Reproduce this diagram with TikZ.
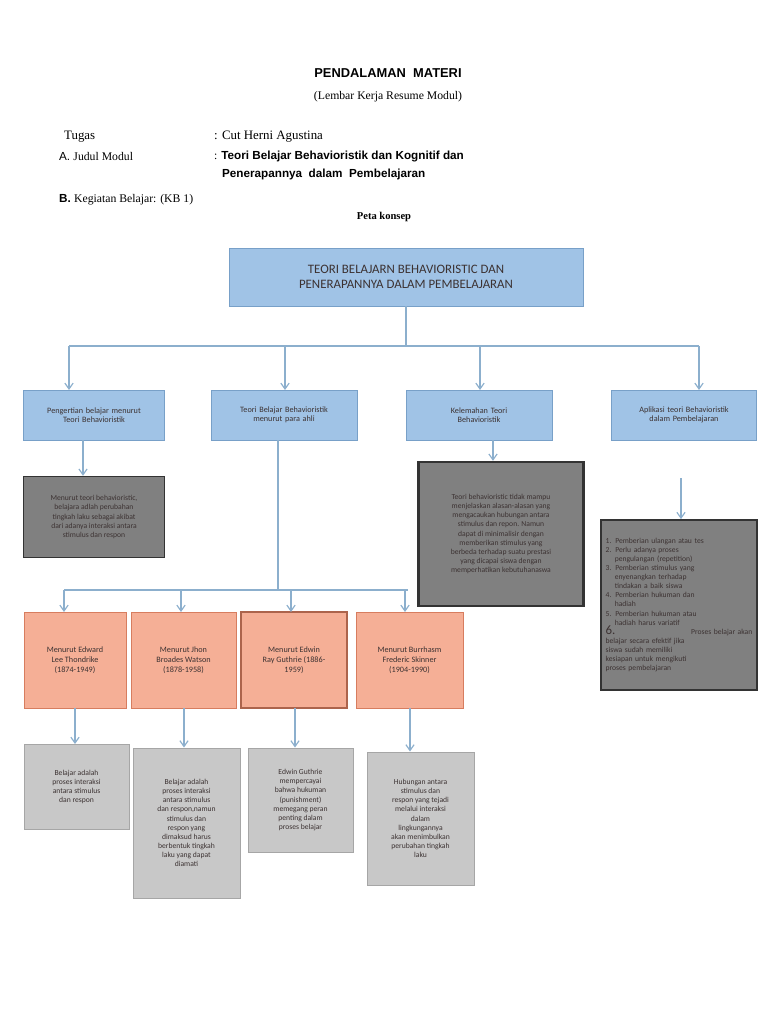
\documentclass[tikz,border=0pt]{standalone}
\usepackage{fontspec}
\setmainfont{Liberation Serif}
\newfontfamily\sansf{Liberation Sans}
\newfontfamily\boxf{Carlito}
\usetikzlibrary{arrows.meta}
\definecolor{lineblue}{RGB}{140,175,205}
\definecolor{headblue}{RGB}{160,195,230}
\definecolor{headedge}{RGB}{120,160,200}
\definecolor{salmon}{RGB}{245,175,150}
\definecolor{salmonedge}{RGB}{215,125,95}
\definecolor{darkgrey}{RGB}{128,128,128}
\definecolor{lightgrey}{RGB}{200,200,200}
\definecolor{boxtext}{RGB}{60,50,50}
\tikzset{
  head/.style = {rectangle, draw=headedge, fill=headblue, line width=0.8pt, text width=#1, align=center, font=\boxf\fontsize{7}{8}\selectfont, text=boxtext, inner sep=2pt},
  topic/.style = {rectangle, draw=headedge, fill=headblue, line width=0.8pt, align=center, font=\boxf\fontsize{11}{13}\selectfont, text=boxtext},
  dark/.style = {rectangle, draw=black!80, fill=darkgrey, line width=#1, align=center, font=\boxf\fontsize{6.5}{7.8}\selectfont, text=boxtext, inner sep=2pt},
  figure/.style = {rectangle, draw=salmonedge, fill=salmon, line width=0.8pt, align=center, font=\boxf\fontsize{7}{8.5}\selectfont, text=boxtext},
  light/.style = {rectangle, draw=gray!70, fill=lightgrey, line width=0.8pt, align=center, font=\boxf\fontsize{6.5}{7.8}\selectfont, text=boxtext},
  line/.style = {draw=lineblue, line width=1pt},
  arr/.style = {draw=lineblue, line width=1pt, -{Straight Barb[length=5pt,width=7pt]}}
}
\begin{document}
\begin{tikzpicture}[x=0.03cm, y=-0.03cm]
  \useasboundingbox (0,0) rectangle (768,1024);
  % header
  \node [font=\sansf\bfseries\fontsize{11}{13}\selectfont] (title) at (388,73) {PENDALAMAN\ \ MATERI};
  \node [font=\fontsize{10}{12}\selectfont] (subtitle) at (388,97) {(Lembar Kerja Resume Modul)};
  \node [anchor=west, font=\fontsize{11}{13}\selectfont] (tugas) at (60,137) {Tugas};
  \node [anchor=west, font=\fontsize{11}{13}\selectfont] (nama) at (210,137) {: Cut Herni Agustina};
  \node [anchor=west, font=\fontsize{10}{12}\selectfont] (judulA) at (55,156) {\sansf A.\ \rmfamily Judul Modul};
  \node [anchor=west, font=\fontsize{10}{12}\selectfont] (judul) at (210,156) {: \sansf\bfseries Teori Belajar Behavioristik dan Kognitif dan};
  \node [anchor=west, font=\sansf\bfseries\fontsize{10}{12}\selectfont] (judul2) at (218,174) {Penerapannya\ \ dalam\ \ Pembelajaran};
  \node [anchor=west, font=\fontsize{10}{12}\selectfont] (kegiatan) at (55,200) {\sansf\bfseries B.\ \rmfamily\mdseries Kegiatan Belajar: (KB 1)};
  \node [font=\bfseries\fontsize{9}{11}\selectfont] (peta) at (384,217) {Peta konsep};

  % main topic
  \node [topic, minimum width=354*0.03cm, minimum height=58*0.03cm] (main) at (406,277) {TEORI BELAJARN BEHAVIORISTIC DAN\\PENERAPANNYA DALAM PEMBELAJARAN};

  % level one
  \node [head=3.9cm, minimum width=141*0.03cm, minimum height=50*0.03cm] (pengertian) at (94,415) {Pengertian belajar menurut\\Teori Behavioristik};
  \node [head=4cm, minimum width=146*0.03cm, minimum height=50*0.03cm] (ahli) at (284,415) {Teori Belajar Behavioristik\\menurut para ahli};
  \node [head=4cm, minimum width=146*0.03cm, minimum height=50*0.03cm] (kelemahan) at (479,415) {Kelemahan Teori\\Behavioristik};
  \node [head=4cm, minimum width=145*0.03cm, minimum height=50*0.03cm] (aplikasi) at (684,415) {Aplikasi teori Behavioristik\\dalam Pembelajaran};

  \coordinate (split) at (406,346);
  \draw [line] (main.south) -- (split);
  \draw [line] (69,346) -- (699,346);
  \foreach \x/\n in {69/pengertian, 285/ahli, 480/kelemahan, 699/aplikasi}
    \draw [arr] (\x,346) -- (\x,390);

  % explanations
  \node [dark=1.2pt, minimum width=141*0.03cm, minimum height=81*0.03cm] (pengertianA) at (94,517) {Menurut teori behavioristic,\\belajara adlah perubahan\\tingkah laku sebagai akibat\\dari adanya interaksi antara\\stimulus dan respon};
  \node [dark=2pt, minimum width=165*0.03cm, minimum height=144*0.03cm] (kelemahanA) at (501,534) {Teori behavioristic tidak mampu\\menjelaskan alasan-alasan yang\\mengacaukan hubungan antara\\stimulus dan repon. Namun\\dapat di minimalisir dengan\\memberikan stimulus yang\\berbeda terhadap suatu prestasi\\yang dicapai siswa dengan\\memperhatikan kebutuhanaswa};
  \node [dark=1.5pt, minimum width=156*0.03cm, minimum height=170*0.03cm, align=left, text width=4.4cm] (aplikasiA) at (679,605) {1. Pemberian ulangan atau tes\\2. Perlu adanya proses\\\hspace*{1.2em}pengulangan (repetition)\\3. Pemberian stimulus yang\\\hspace*{1.2em}enyenangkan terhadap\\\hspace*{1.2em}tindakan a baik siswa\\4. Pemberian hukuman dan\\\hspace*{1.2em}hadiah\\5. Pemberian hukuman atau\\\hspace*{1.2em}hadiah harus variatif\\{\fontsize{11}{12}\selectfont 6.}\hfill Proses belajar akan\\belajar secara efektif jika\\siswa sudah memiliki\\kesiapan untuk mengikuti\\proses pembelajaran};
  \draw [arr] (83,440) -- (pengertianA.north -| 83,0);
  \draw [arr] (493,440) -- (kelemahanA.north -| 493,0);
  \draw [arr] (681,478) -- (aplikasiA.north -| 681,0);

  % experts
  \node [figure, minimum width=102*0.03cm, minimum height=96*0.03cm] (thorndike) at (75,660) {Menurut Edward\\Lee Thondrike\\(1874-1949)};
  \node [figure, minimum width=105*0.03cm, minimum height=96*0.03cm] (watson) at (183.5,660) {Menurut Jhon\\Broades Watson\\(1878-1958)};
  \node [figure, draw=salmonedge!80!black, line width=1.4pt, minimum width=106*0.03cm, minimum height=96*0.03cm] (guthrie) at (294,660) {Menurut Edwin\\Ray Guthrie (1886-\\1959)};
  \node [figure, minimum width=107*0.03cm, minimum height=96*0.03cm] (skinner) at (409.5,660) {Menurut Burrhasm\\Frederic Skinner\\(1904-1990)};

  \coordinate (expertsplit) at (278,590);
  \draw [line] (ahli.south -| 278,0) -- (expertsplit);
  \draw [line] (64,590) -- (408,590);
  \foreach \x in {64, 181, 291, 405}
    \draw [arr] (\x,590) -- (\x,612);

  % expert explanations
  \node [light, minimum width=105*0.03cm, minimum height=85*0.03cm] (thorndikeA) at (76.5,787) {Belajar adalah\\proses interaksi\\antara stimulus\\dan respon};
  \node [light, minimum width=107*0.03cm, minimum height=150*0.03cm] (watsonA) at (186.5,823) {Belajar adalah\\proses interaksi\\antara stimulus\\dan respon,namun\\stimulus dan\\respon yang\\dimaksud harus\\berbentuk tingkah\\laku yang dapat\\diamati};
  \node [light, minimum width=105*0.03cm, minimum height=104*0.03cm] (guthrieA) at (300.5,800) {Edwin Guthrie\\mempercayai\\bahwa hukuman\\(punishment)\\memegang peran\\penting dalam\\proses belajar};
  \node [light, minimum width=107*0.03cm, minimum height=133*0.03cm] (skinnerA) at (420.5,818.5) {Hubungan antara\\stimulus dan\\respon yang tejadi\\melalui interaksi\\dalam\\lingkungannya\\akan menimbulkan\\perubahan tingkah\\laku};
  \draw [arr] (75,708) -- (thorndikeA.north -| 75,0);
  \draw [arr] (184,708) -- (watsonA.north -| 184,0);
  \draw [arr] (295,708) -- (guthrieA.north -| 295,0);
  \draw [arr] (410,708) -- (skinnerA.north -| 410,0);
\end{tikzpicture}
\end{document}
